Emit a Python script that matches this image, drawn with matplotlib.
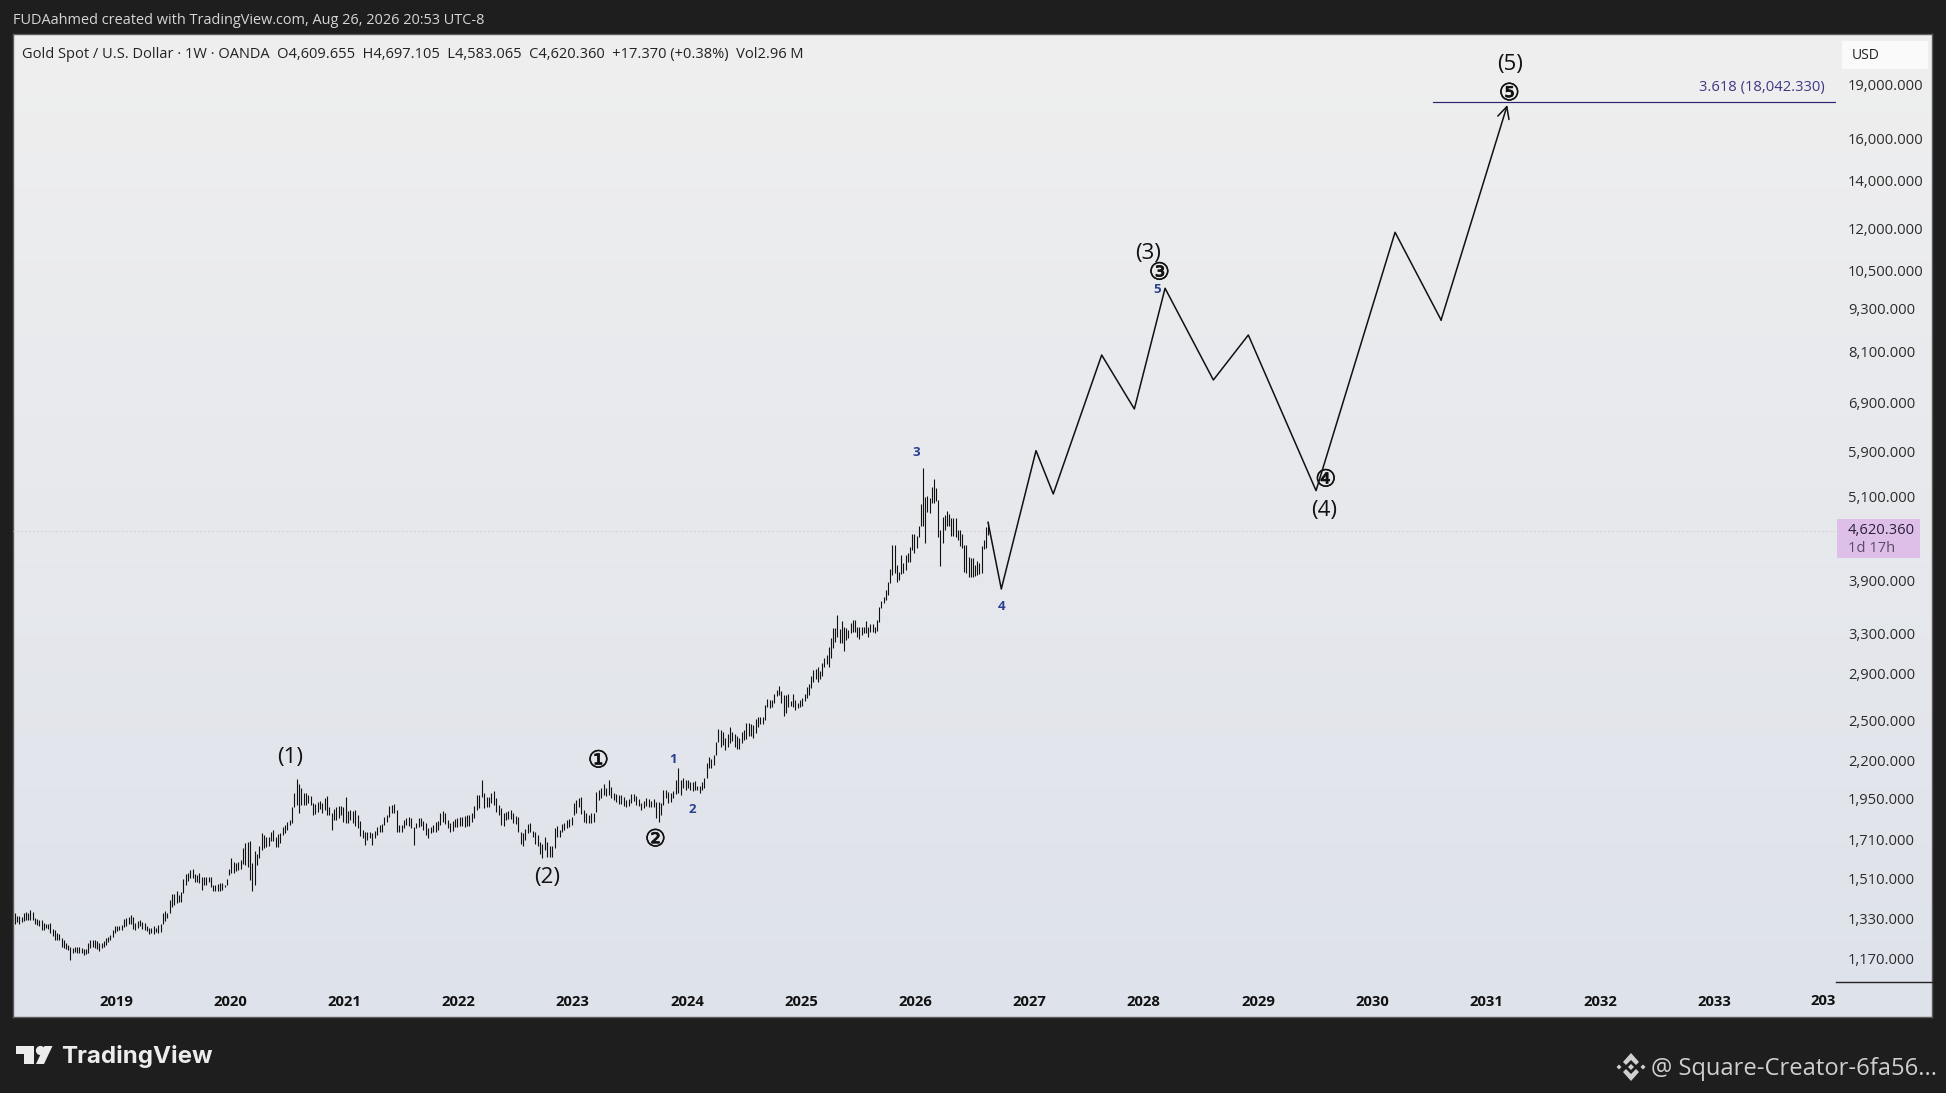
#!/usr/bin/env python3
import numpy as np
import matplotlib
matplotlib.use("Agg")
import matplotlib.pyplot as plt
import matplotlib.patheffects as pe
from matplotlib.patches import Rectangle, Polygon, FancyBboxPatch
from matplotlib.transforms import ScaledTranslation

plt.rcParams.update({'font.family': ['Open Sans', 'DejaVu Sans']})

# weekly bars, (high, low) per calendar year
bars_2018 = [(1351,1305),(1340,1311),(1336,1305),(1333,1311),(1351,1315),(1357,1319),(1351,1322),(1365,1322),
             (1354,1319),(1329,1305),(1325,1301),(1322,1295),(1322,1281),(1308,1281),(1303,1288),(1305,1284),
             (1308,1268),(1284,1254),(1278,1241),(1268,1239),(1265,1239),(1246,1213),(1239,1209),(1226,1203),
             (1218,1200),(1213,1162),(1209,1188),(1213,1193),(1213,1188),(1211,1190),(1208,1188),(1203,1181),
             (1206,1184),(1226,1188),(1239,1209),(1239,1213),(1239,1209),(1234,1206),(1228,1197),(1226,1209),
             (1234,1213),(1249,1218),(1252,1231),(1261,1239),(1281,1252),(1297,1268)]
bars_2019 = [(1295,1275),(1295,1279),(1301,1279),(1325,1292),(1329,1297),(1333,1305),(1343,1305),(1333,1284),
             (1308,1281),(1315,1288),(1322,1295),(1311,1284),(1308,1281),(1295,1275),(1288,1265),(1288,1268),
             (1297,1265),(1289,1270),(1301,1268),(1305,1270),(1351,1305),(1358,1315),(1351,1329),(1409,1351),
             (1436,1379),(1436,1386),(1451,1394),(1431,1401),(1446,1401),(1508,1439),(1530,1479),(1536,1494),
             (1548,1512),(1556,1512),(1532,1490),(1525,1490),(1536,1488),(1516,1456),(1516,1479),(1516,1475),
             (1513,1490),(1516,1470),(1479,1447),(1479,1447),(1483,1451),(1485,1447),(1485,1454),(1479,1470),
             (1508,1475),(1553,1525)]
bars_2020 = [(1609,1534),(1588,1536),(1585,1545),(1588,1548),(1598,1556),(1661,1580),(1689,1572),(1693,1564),
             (1702,1502),(1585,1451),(1644,1479),(1632,1572),(1675,1609),(1742,1654),(1732,1661),(1723,1669),
             (1723,1675),(1751,1697),(1761,1697),(1723,1669),(1737,1669),(1742,1687),(1779,1732),(1789,1742),
             (1808,1761),(1818,1789),(1897,1800),(1983,1897),(2070,1906),(2037,1860),(2012,1906),(1983,1906),
             (1979,1906),(1969,1917),(1962,1906),(1917,1848),(1913,1854),(1927,1866),(1933,1881),(1921,1860),
             (1952,1877),(1962,1848),(1893,1848),(1860,1761),(1885,1818),(1893,1818),(1901,1828),(1901,1848),
             (1893,1808)]
bars_2021 = [(1956,1798),(1868,1800),(1877,1818),(1873,1800),(1877,1781),(1848,1770),(1814,1726),(1761,1717),
             (1751,1678),(1747,1705),(1751,1717),(1742,1678),(1757,1717),(1779,1732),(1789,1751),(1794,1751),
             (1837,1789),(1848,1808),(1901,1837),(1906,1857),(1913,1860),(1877,1751),(1789,1751),(1789,1751),
             (1818,1770),(1828,1789),(1833,1781),(1829,1770),(1779,1678),(1802,1770),(1828,1779),(1828,1781),
             (1814,1761),(1798,1732),(1770,1717),(1779,1742),(1789,1751),(1808,1751),(1814,1761),(1857,1789),
             (1873,1808),(1857,1794),(1818,1770),(1798,1751),(1814,1757),(1822,1775),(1828,1779)]
bars_2022 = [(1833,1781),(1837,1781),(1841,1779),(1848,1781),(1848,1781),(1857,1808),(1901,1828),(1969,1877),
             (1969,1887),(2064,1958),(1979,1887),(1958,1897),(1954,1893),(1979,1917),(1995,1906),(1947,1866),
             (1906,1848),(1887,1789),(1857,1781),(1866,1818),(1873,1822),(1877,1822),(1857,1798),(1841,1794),
             (1833,1747),(1751,1684),(1742,1675),(1764,1705),(1794,1742),(1802,1751),(1757,1724),(1747,1684),
             (1732,1675),(1694,1631),(1685,1609),(1724,1651),(1694,1617),(1675,1613),(1675,1617),(1770,1661),
             (1783,1720),(1761,1720),(1794,1751),(1802,1761),(1818,1770),(1822,1779),(1837,1789)]
bars_2023 = [(1917,1848),(1937,1860),(1947,1893),(1954,1854),(1877,1808),(1857,1802),(1848,1798),(1857,1802),
             (1860,1808),(1987,1866),(1997,1937),(2010,1947),(2037,1969),(2012,1962),(2064,1969),(2017,1947),
             (1983,1937),(1975,1927),(1969,1913),(1969,1913),(1958,1901),(1937,1893),(1941,1901),(1975,1917),
             (1975,1933),(1962,1906),(1941,1901),(1921,1877),(1933,1887),(1947,1901),(1941,1893),(1933,1897),
             (1941,1893),(1927,1828),(1927,1808),(1917,1848),(1997,1906),(2001,1947),(1987,1921),(1979,1927),
             (1995,1947),(2066,1975),(2142,1983),(2064,1969),(2081,2012),(2064,2001)]
bars_2024 = [(2064,2010),(2050,2001),(2050,1995),(2058,2001),(2023,2001),(2023,1979),(2050,2001),(2081,2012),
             (2181,2077),(2220,2142),(2206,2142),(2238,2168),(2330,2235),(2428,2330),(2423,2296),(2404,2306),
             (2358,2272),(2392,2296),(2446,2320),(2404,2340),(2392,2296),(2375,2280),(2358,2280),(2404,2320),
             (2423,2347),(2478,2351),(2473,2375),(2468,2375),(2462,2358),(2508,2396),(2526,2447),(2526,2465),
             (2526,2465),(2621,2500),(2675,2603),(2661,2596),(2661,2603),(2717,2637),(2752,2703),(2787,2711),
             (2745,2637),(2711,2534),(2711,2556),(2717,2603),(2652,2615),(2717,2603),(2661,2577),(2637,2596),
             (2661,2603)]
bars_2025 = [(2682,2615),(2717,2652),(2777,2682),(2808,2711),(2878,2767),(2932,2826),(2938,2846),(2957,2826),
             (2925,2852),(2996,2878),(3049,2962),(3072,2985),(3157,2962),(3243,3043),(3350,3142),(3349,3208),
             (3494,3261),(3339,3199),(3428,3199),(3360,3117),(3349,3226),(3332,3243),(3402,3296),(3439,3314),
             (3439,3314),(3367,3254),(3360,3240),(3367,3279),(3367,3296),(3428,3296),(3367,3261),(3395,3314),
             (3395,3314),(3367,3296),(3439,3325),(3589,3421),(3658,3569),(3705,3626),(3784,3666),(3878,3725),
             (4042,3866),(4367,3971),(4367,3991),(4099,3878),(4012,3907),(4230,3983),(4120,4000),(4230,4033),
             (4253,4142),(4345,4142),(4531,4299),(4531,4262)]
bars_2026 = [(4494,4322),(4635,4485),(4978,4635),(5575,4635),(5096,4391),(5106,4859),(5081,4833),(5261,4988),
             (5385,4988),(5234,5031),(5041,4485),(4578,4086),(4782,4400),(4808,4578),(4873,4635),(4818,4644),
             (4757,4494),(4757,4494),(4767,4485),(4578,4438),(4578,4354),(4522,4322),(4367,4012),(4367,3991),
             (4200,3950),(4186,3941),(4186,3950),(4099,3958),(4155,3971),(4120,3983),(4354,4000),(4438,4317),
             (4625,4322),(4697,4508)]
bar_years = [2018, 2019, 2020, 2021, 2022, 2023, 2024, 2025, 2026]
bars_by_year = [bars_2018, bars_2019, bars_2020, bars_2021, bars_2022, bars_2023, bars_2024, bars_2025, bars_2026]
first_bar_date = 2018.115
last_bar_date = 2026.636

# projected wave path
wave_dates = [2026.636, 2026.752, 2027.056, 2027.207, 2027.631, 2027.917, 2028.186, 2028.609, 2028.915,
              2029.508, 2030.200, 2030.603, 2031.183]
wave_prices = [4697, 3796, 5902, 5140, 8006, 6740, 9905, 7393, 8533, 5195, 11841, 8951, 17769]

paren_labels = ['(1)', '(2)', '(3)', '(4)', '(5)']
paren_dates = [2020.524, 2022.771, 2028.040, 2029.578, 2031.207]
paren_prices = [2229, 1522, 11110, 4895, 20335]
circled_labels = ['①', '②', '③', '④', '⑤']
circled_dates = [2023.224, 2023.723, 2028.136, 2029.593, 2031.200]
circled_prices = [2208, 1717, 10465, 5409, 18540]
minor_labels = ['1', '2', '3', '4', '5']
minor_dates = [2023.880, 2024.050, 2026.010, 2026.755, 2028.118]
minor_prices = [2213, 1886, 5896, 3608, 9905]

fib_start = 2030.53
fib_level = 17940
price_line = 4570
price_ticks = [19000, 16000, 14000, 12000, 10500, 9300, 8100, 6900, 5900, 5100, 3900, 3300, 2900, 2500,
               2200, 1950, 1710, 1510, 1330, 1170]
year_ticks = list(range(2019, 2034))

W, H = 1946, 1093
DARK = '#1e1e1e'


def fx(x):
    return x / W


def fy(y):
    return 1 - y / H


def px_axes(x0, y0, x1, y1, **kw):
    return plt.gcf().add_axes([fx(x0), fy(y1), (x1 - x0) / W, (y1 - y0) / H], **kw)


fig = plt.figure(figsize=(W / 100, H / 100), dpi=100, facecolor=DARK)
down = ScaledTranslation(0, -1.5 / 100, fig.dpi_scale_trans)

# panel background, light grey fading into blue grey
bg = px_axes(13, 34, 1932, 1017)
top_col = np.array([239, 239, 239]) / 255
bot_col = np.array([222, 226, 234]) / 255
grad = np.linspace(0, 1, 256)[:, None, None] * (bot_col - top_col) + top_col
bg.imshow(grad, aspect='auto', extent=[0, 1, 0, 1], zorder=0)
bg.set_xticks([])
bg.set_yticks([])
for s in bg.spines.values():
    s.set_color('#5a5a5a')
    s.set_linewidth(1)

ax = px_axes(13, 34, 1836, 1017)
ax.patch.set_alpha(0)
ax.set_yscale('log')
ax.set_xlim(2018.098, 2034.061)
ax.set_ylim(969.6, 22284)
for s in ax.spines.values():
    s.set_visible(False)

# bars
for yr, bars in zip(bar_years, bars_by_year):
    start = first_bar_date if yr == bar_years[0] else yr + 0.01
    end = last_bar_date if yr == bar_years[-1] else yr + 0.99
    dates = np.linspace(start, end, len(bars))
    hi = [b[0] for b in bars]
    lo = [b[1] for b in bars]
    ax.vlines(dates, lo, hi, color='#111111', lw=0.8, zorder=3)

ax.axhline(price_line, color='#d9cfdc', lw=0.7, ls=(0, (2, 2)), zorder=1)

# wave projection
ax.plot(wave_dates[:-1], wave_prices[:-1], color='#111111', lw=1.1, zorder=4)
ax.annotate('', xy=(wave_dates[-1], wave_prices[-1]), xytext=(wave_dates[-2], wave_prices[-2]),
            arrowprops=dict(arrowstyle='->', color='#111111', lw=1.1, mutation_scale=21, shrinkA=0, shrinkB=0),
            zorder=4)

# fib level
ax.plot([fib_start, ax.get_xlim()[1]], [fib_level, fib_level], color='#2b2470', lw=0.85, zorder=4)
fig.text(fx(1825), fy(87.5), '3.618 (18,042.330)', color='#3f3785', fontsize=10.6, ha='right', va='center')

for t, d, p in zip(paren_labels, paren_dates, paren_prices):
    ax.text(d, p, t, fontsize=16, color='#111111', ha='center', va='center', zorder=5,
            transform=ax.transData + down)
for t, d, p in zip(circled_labels, circled_dates, circled_prices):
    ax.text(d, p, t, fontsize=17, color='#111111', ha='center', va='center', family='DejaVu Sans',
            zorder=5, transform=ax.transData + down,
            path_effects=[pe.withStroke(linewidth=0.5, foreground='#111111')])
for t, d, p in zip(minor_labels, minor_dates, minor_prices):
    ax.text(d, p, t, fontsize=9.5, color='#2a3f8f', weight='bold', ha='center', va='center', zorder=5,
            transform=ax.transData + down)

# price scale
ax.yaxis.tick_right()
ax.set_yticks(price_ticks)
ax.set_yticklabels([f'{v:,.3f}' for v in price_ticks])
ax.minorticks_off()
ax.tick_params(axis='y', length=0, pad=8.6, labelsize=10.6, labelcolor='#2b2b2b')
tick_down = ScaledTranslation(0, -0.4 / 100, fig.dpi_scale_trans)
for lab in ax.get_yticklabels():
    lab.set_transform(lab.get_transform() + tick_down)

# time scale
ax.set_xticks(year_ticks)
ax.set_xticklabels([str(y) for y in year_ticks], fontweight='bold')
ax.tick_params(axis='x', length=0, pad=-15.8, labelsize=10.7, labelcolor='#111111')
fig.text(fx(1836), fy(1001), '203', fontsize=10.7, fontweight='bold', color='#111111', ha='right', va='center')
fig.add_artist(plt.Line2D([fx(1836), fx(1932)], [fy(982), fy(982)], color='#222222', lw=1.0))

# price box and currency box
fig.add_artist(Rectangle((fx(1837), fy(558)), 83 / W, 39 / H, transform=fig.transFigure, color='#debfe8', lw=0))
fig.text(fx(1848), fy(530.5), '4,620.360', fontsize=10.6, color='#2a2238', va='center')
fig.text(fx(1848), fy(548.5), '1d 17h', fontsize=10.6, color='#5b4b66', va='center')
fig.add_artist(FancyBboxPatch((fx(1844), fy(68)), 82 / W, 26 / H, transform=fig.transFigure,
                              boxstyle='round,pad=0.001', color='#fafafa', lw=0))
fig.text(fx(1852), fy(55.5), 'USD', fontsize=10, color='#222222', va='center')

# header lines
fig.text(fx(13), fy(21), 'FUDAahmed created with TradingView.com, Aug 26, 2026 20:53 UTC-8',
         fontsize=10.45, color='#d6d6d6', va='center')
fig.text(fx(22.5), fy(55),
         'Gold Spot / U.S. Dollar · 1W · OANDA  O4,609.655  H4,697.105  L4,583.065  C4,620.360  +17.370 (+0.38%)  Vol2.96 M',
         fontsize=10.55, color='#222222', va='center')

# TradingView logo
logo_col = '#ececec'
for pts in ([(15.5, 1046), (33.5, 1046), (33.5, 1064), (24, 1064), (24, 1054), (15.5, 1054)],
            [(44.5, 1046), (52.5, 1046), (44, 1064), (36, 1064)]):
    fig.add_artist(Polygon([(fx(a), fy(b)) for a, b in pts], transform=fig.transFigure, color=logo_col, lw=0))
fig.add_artist(plt.Line2D([fx(39.5)], [fy(1050)], marker='o', ms=5.6, color=logo_col, lw=0))
fig.text(fx(61), fy(1057), 'TradingView', fontsize=17.4, color=logo_col, fontweight='bold',
         family='Inter', va='center')

# footer watermark
wm_x, wm_y = 1631, 1067
wm_shapes = ([(-8, -5), (0, -14), (8, -5), (5, -2), (0, -7), (-5, -2)],
             [(-8, 5), (0, 14), (8, 5), (5, 2), (0, 7), (-5, 2)],
             [(-3, 0), (0, -3), (3, 0), (0, 3)],
             [(-14.5, 0), (-12, -2.5), (-9.5, 0), (-12, 2.5)],
             [(14.5, 0), (12, -2.5), (9.5, 0), (12, 2.5)])
for pts in wm_shapes:
    fig.add_artist(Polygon([(fx(wm_x + a), fy(wm_y + b)) for a, b in pts], transform=fig.transFigure,
                           color='#d0d0d0', lw=0))
fig.text(fx(1937), fy(1069), '@ Square-Creator-6fa56...', fontsize=17.1, color='#cfcfcf', ha='right', va='center')

fig.savefig('out.png', dpi=100, facecolor=fig.get_facecolor())
